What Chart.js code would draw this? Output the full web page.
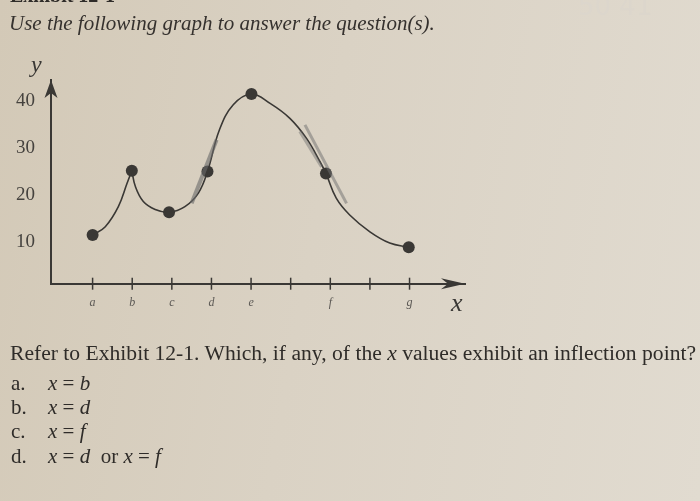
<!DOCTYPE html>
<html>
<head>
<meta charset="utf-8">
<script src="https://cdn.jsdelivr.net/npm/chart.js@4.4.1/dist/chart.umd.min.js"></script>
<style>
  html, body { margin: 0; padding: 0; }
  body {
    width: 700px; height: 501px; overflow: hidden; position: relative;
    background: linear-gradient(100deg, #d3c9b7 0%, #dad2c4 45%, #e1dbd0 100%);
    font-family: "Liberation Serif", "DejaVu Serif", serif;
    color: #2f2c29;
  }
  #chart { position: absolute; left: 0; top: 0; }
  .txt { position: absolute; white-space: nowrap; line-height: 1; }
  .it { font-style: italic; }
  .opt { font-size: 21px; }
</style>
</head>
<body>
<canvas id="chart" width="700" height="501"></canvas>

<div class="txt" style="left:10px; top:-15px; font-size:20px; font-weight:bold;">Exhibit 12-1</div>
<div class="txt" style="left:578px; top:-7px; font-size:26px; color:#dcd6cc; font-family:'DejaVu Sans';">50 41</div>
<div class="txt it" style="left:9px; top:13px; font-size:21px; color:#35312e;">Use the following graph to answer the question(s).</div>

<div class="txt it" style="left:31px; top:52px; font-size:24px; color:#3a3835;">y</div>
<div class="txt it" style="left:451px; top:290px; font-size:26px; color:#3a3835;">x</div>

<div class="txt" style="left:10px; top:343px; font-size:21.6px;">Refer to Exhibit 12-1. Which, if any, of the <i>x</i> values exhibit an inflection point?</div>
<div class="txt opt" style="left:11px; top:373px;">a.</div>
<div class="txt opt" style="left:48px; top:373px;"><i>x</i> = <i>b</i></div>
<div class="txt opt" style="left:11px; top:397px;">b.</div>
<div class="txt opt" style="left:48px; top:397px;"><i>x</i> = <i>d</i></div>
<div class="txt opt" style="left:11px; top:421px;">c.</div>
<div class="txt opt" style="left:48px; top:421px;"><i>x</i> = <i>f</i></div>
<div class="txt opt" style="left:11px; top:446px;">d.</div>
<div class="txt opt" style="left:48px; top:446px;"><i>x</i> = <i>d</i>&nbsp; or <i>x</i> = <i>f</i></div>

<script>
// tick labels along x (tick positions 0..8)
const tickLabels = ['a', 'b', 'c', 'd', 'e', '', 'f', '', 'g'];
const yTicks = [10, 20, 30, 40];

// the labelled dots
const dotX = [0, 0.99, 1.93, 2.9, 4.01, 5.89, 7.98];
const dotY = [11.4, 25.2, 16.3, 25.0, 41.6, 24.6, 8.8];

// curve, split at the cusp at b
const leftX = [0, 0.32, 0.65, 0.87, 0.99];
const leftY = [11.4, 13.2, 17.5, 22.5, 25.2];
const rightX = [0.99, 1.08, 1.28, 1.58, 1.93, 2.33, 2.67, 2.9, 3.2, 3.55, 4.01, 4.48, 4.98, 5.4, 5.74, 5.89, 6.15, 6.49, 7.0, 7.5, 7.98];
const rightY = [25.2, 21.8, 18.6, 16.9, 16.3, 17.5, 20.4, 25.0, 33.9, 39.3, 41.6, 39.6, 36.4, 32.1, 27.1, 24.6, 19.3, 15.7, 12.1, 9.7, 8.8];

// pencil tangent strokes
const pencilDX = [2.5, 3.13];
const pencilDY = [18.2, 31.8];
const pencilF1X = [5.36, 6.41];
const pencilF1Y = [35.0, 18.2];
const pencilF2X = [5.23, 5.78];
const pencilF2Y = [33.6, 26.0];

const ink = '#3a3835';

function pts(xs, ys) {
  return xs.map((x, i) => ({ x: x, y: ys[i] }));
}

const axisDecor = {
  id: 'axisDecor',
  afterDraw(chart) {
    const ctx = chart.ctx;
    const xs = chart.scales.x;
    const ax = chart.chartArea;
    const y0 = ax.bottom, x0 = ax.left;
    ctx.save();
    ctx.strokeStyle = ink;
    ctx.fillStyle = ink;
    ctx.lineWidth = 1.5;
    // tick marks crossing the x axis
    xs.ticks.forEach(t => {
      const px = xs.getPixelForValue(t.value);
      ctx.beginPath();
      ctx.moveTo(px, y0 - 6);
      ctx.lineTo(px, y0 + 6);
      ctx.stroke();
    });
    // arrow heads
    ctx.beginPath();
    ctx.moveTo(ax.right, y0);
    ctx.lineTo(ax.right - 24, y0 - 5.5);
    ctx.lineTo(ax.right - 17, y0);
    ctx.lineTo(ax.right - 24, y0 + 5.5);
    ctx.closePath();
    ctx.fill();
    ctx.beginPath();
    ctx.moveTo(x0, ax.top);
    ctx.lineTo(x0 - 6.5, ax.top + 18);
    ctx.lineTo(x0, ax.top + 13);
    ctx.lineTo(x0 + 6.5, ax.top + 18);
    ctx.closePath();
    ctx.fill();
    ctx.restore();
  }
};

new Chart(document.getElementById('chart'), {
  type: 'scatter',
  data: {
    datasets: [
      {
        data: pts(pencilDX, pencilDY), showLine: true,
        borderColor: 'rgba(105,105,105,0.6)', borderWidth: 4, pointRadius: 0
      },
      {
        data: pts(pencilF1X, pencilF1Y), showLine: true,
        borderColor: 'rgba(110,110,110,0.5)', borderWidth: 3, pointRadius: 0
      },
      {
        data: pts(pencilF2X, pencilF2Y), showLine: true,
        borderColor: 'rgba(110,110,110,0.45)', borderWidth: 3, pointRadius: 0
      },
      {
        data: pts(leftX, leftY), showLine: true, tension: 0.4,
        borderColor: ink, borderWidth: 1.6, pointRadius: 0
      },
      {
        data: pts(rightX, rightY), showLine: true, tension: 0.4,
        borderColor: ink, borderWidth: 1.6, pointRadius: 0
      },
      {
        data: pts(dotX, dotY), showLine: false,
        pointRadius: 6, pointBackgroundColor: ink, pointBorderColor: ink, pointBorderWidth: 0
      }
    ]
  },
  options: {
    responsive: false,
    animation: false,
    layout: { padding: { top: 80, left: 0, right: 235, bottom: 187.3 } },
    plugins: { legend: { display: false }, tooltip: { enabled: false } },
    scales: {
      x: {
        type: 'linear', min: -1.05, max: 9.4,
        afterBuildTicks: s => { s.ticks = tickLabels.map((l, i) => ({ value: i })); },
        afterFit: s => { s.height = 30; },
        grid: { display: false, drawTicks: false },
        border: { display: true, color: ink, width: 2 },
        ticks: {
          autoSkip: false, maxRotation: 0, padding: 12, color: '#5c5955',
          font: { family: 'Liberation Serif', style: 'italic', size: 12 },
          callback: v => tickLabels[v] !== undefined ? tickLabels[v] : ''
        }
      },
      y: {
        min: 1.0, max: 44.6,
        afterBuildTicks: s => { s.ticks = yTicks.map(v => ({ value: v })); },
        afterFit: s => { s.width = 51; },
        grid: { display: false, drawTicks: false },
        border: { display: true, color: ink, width: 2 },
        ticks: {
          padding: 16, color: '#45423e',
          font: { family: 'Liberation Serif', size: 19 }
        }
      }
    }
  },
  plugins: [axisDecor]
});
</script>
</body>
</html>
